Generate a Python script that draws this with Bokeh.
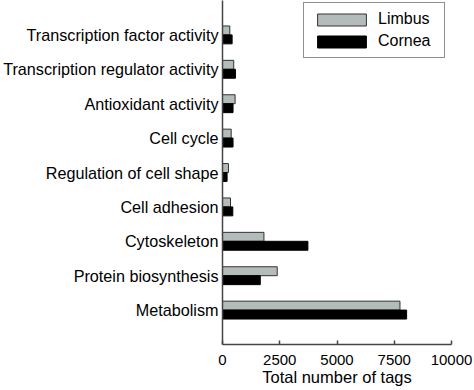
from bokeh.plotting import figure
from bokeh.models import ColumnDataSource, Range1d, FixedTicker, Legend, LegendItem
from bokeh.transform import dodge
from bokeh.embed import file_html
from bokeh.resources import INLINE

categories = ["Metabolism", "Protein biosynthesis", "Cytoskeleton", "Cell adhesion",
              "Regulation of cell shape", "Cell cycle", "Antioxidant activity",
              "Transcription regulator activity", "Transcription factor activity"]
limbus = [7750, 2390, 1810, 350, 260, 380, 550, 490, 320]
cornea = [8040, 1650, 3730, 450, 200, 460, 460, 565, 420]
x_ticks = [0, 2500, 5000, 7500, 10000]

ypos = list(range(len(categories)))
src = ColumnDataSource(dict(y=ypos, limbus=limbus, cornea=cornea))

FONT = "Liberation Sans"
p = figure(width=474, height=390, output_backend="svg", toolbar_location=None,
           x_range=Range1d(0, 10000), y_range=Range1d(-1.0, 9.0),
           min_border_left=221, min_border_right=23, min_border_top=0, min_border_bottom=46)
p.outline_line_color = None
p.xgrid.visible = False
p.ygrid.visible = False

bh = 0.26
r1 = p.hbar(y=dodge("y", bh / 2), right="limbus", left=0, height=bh, source=src,
            fill_color="#b3bbbb", line_color="#333333", line_width=1)
r2 = p.hbar(y=dodge("y", -bh / 2), right="cornea", left=0, height=bh, source=src,
            fill_color="#000000", line_color="#000000", line_width=1)

# axes
p.yaxis.ticker = FixedTicker(ticks=ypos)
p.yaxis.major_label_overrides = {i: c for i, c in enumerate(categories)}
p.yaxis.major_tick_line_color = None
p.yaxis.major_tick_in = 0
p.yaxis.major_tick_out = 0
p.yaxis.minor_tick_line_color = None
p.yaxis.major_label_standoff = 4
p.yaxis.major_label_text_font = FONT
p.yaxis.major_label_text_font_size = "16.2px"
p.yaxis.major_label_text_color = "#000000"
p.yaxis.axis_line_color = "#444444"
p.yaxis.axis_line_width = 1.5

p.xaxis.ticker = FixedTicker(ticks=x_ticks)
p.xaxis.minor_tick_line_color = None
p.xaxis.major_tick_in = 4
p.xaxis.major_tick_out = 0
p.xaxis.major_tick_line_color = "#444444"
p.xaxis.major_tick_line_width = 1.5
p.xaxis.axis_line_color = "#444444"
p.xaxis.axis_line_width = 1.5
p.xaxis.major_label_text_font = FONT
p.xaxis.major_label_text_font_size = "15px"
p.xaxis.major_label_text_color = "#000000"
p.xaxis.major_label_standoff = 10
p.xaxis.axis_label = "Total number of tags"
p.xaxis.axis_label_text_font = FONT
p.xaxis.axis_label_text_font_size = "16.5px"
p.xaxis.axis_label_text_font_style = "normal"
p.xaxis.axis_label_text_color = "#000000"
p.xaxis.axis_label_standoff = 0

legend = Legend(items=[LegendItem(label="Limbus", renderers=[r1]),
                       LegendItem(label="Cornea", renderers=[r2])],
                location=(81, 286))
legend.border_line_color = "#222222"
legend.border_line_width = 1.5
legend.padding = 7
legend.spacing = 4
legend.margin = 0
legend.glyph_width = 61
legend.glyph_height = 15
legend.label_height = 15
legend.label_width = 59
legend.label_standoff = 6
legend.label_text_font = FONT
legend.label_text_font_size = "16px"
legend.label_text_color = "#000000"
legend.background_fill_alpha = 1
p.add_layout(legend, "center")

open("out.html", "w").write(file_html(p, INLINE))
